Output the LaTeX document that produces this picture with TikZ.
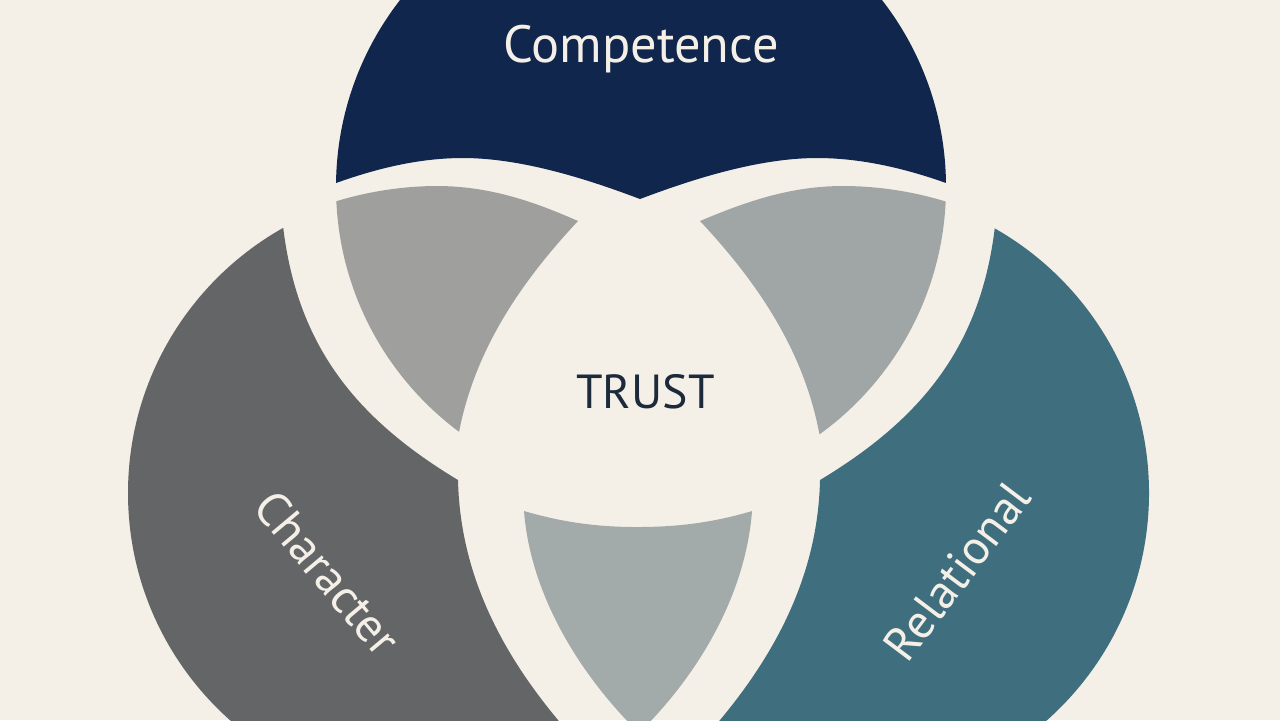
\documentclass[tikz,border=0pt]{standalone}
\usepackage{fontspec}
\setmainfont{PT Sans}
\definecolor{paper}{HTML}{F5F0E7}
\definecolor{navy}{HTML}{10264C}
\definecolor{slate}{HTML}{646567}
\definecolor{teal}{HTML}{3F6E7E}
\definecolor{lensleft}{HTML}{9FA09E}
\definecolor{lensright}{HTML}{A0A6A6}
\definecolor{lensbottom}{HTML}{A2ABAA}
\definecolor{ink}{HTML}{1C2A3C}
\tikzset{
    petal label/.style={text=paper,inner sep=0pt,font=\fontsize{13.7pt}{16pt}\selectfont},
    top circle/.style={insert path={(641,187) circle[radius=305]}},
    left circle/.style={insert path={(432,493) circle[radius=304]}},
    right circle/.style={insert path={(845,493) circle[radius=304]}},
}
\begin{document}
\begin{tikzpicture}[x=0.01cm,y=-0.01cm]
    
    \useasboundingbox (0,0) rectangle (1280,720);
    \clip (0,0) rectangle (1280,720);
    \fill[paper] (0,0) rectangle (1280,720);
    
    % outer petals
    \begin{scope}
    \clip[top circle];
    \fill[navy] (320,183) to (336,183)
        .. controls (378,168) and (420,158) .. (463,158)
        .. controls (525,158) and (595,182) .. (640,199)
        .. controls (685,182) and (755,158) .. (817,158)
        .. controls (860,158) and (904,168) .. (946,183)
        to (960,183) to (960,-20) to (320,-20) to cycle;
    \end{scope}
    
    \begin{scope}
    \clip[left circle];
    \fill[slate] (283,226)
        .. controls (297,345) and (355,418) .. (458,480)
        .. controls (460,570) and (498,648) .. (558,720)
        to (575,741) to (100,741) to (100,200) to cycle;
    \end{scope}
    
    \begin{scope}
    \clip[right circle];
    \fill[teal] (995,226)
        .. controls (981,345) and (923,418) .. (820,480)
        .. controls (818,570) and (780,648) .. (720,720)
        to (703,741) to (1178,741) to (1178,200) to cycle;
    \end{scope}
    
    % overlaps
    \begin{scope}
    \clip[top circle];
    \fill[lensleft] (320,206) to (337,201)
        .. controls (370,191) and (405,186) .. (437,186)
        .. controls (490,186) and (535,202) .. (578,221)
        .. controls (520,283) and (475,350) .. (459,432)
        to (455,450) to (320,450) to cycle;
    \fill[lensright] (960,206) to (944,201)
        .. controls (911,191) and (876,186) .. (843,186)
        .. controls (790,186) and (745,202) .. (700,221)
        .. controls (758,283) and (803,350) .. (819,432)
        to (823,450) to (960,450) to cycle;
    \end{scope}
    
    \fill[lensbottom] (524,511)
        .. controls (565,523) and (600,527) .. (637,527)
        .. controls (680,527) and (715,522) .. (752,511)
        .. controls (746,590) and (703,670) .. (639,733)
        .. controls (575,670) and (530,590) .. (524,511) -- cycle;
    
    \node[petal label,font=\fontsize{14.9pt}{16pt}\selectfont] (competence) at (641,49.5) {Competence};
    \node[text=ink,inner sep=0pt,font=\fontsize{13.6pt}{16pt}\selectfont] (trust) at (645.5,392) {TRUST};
    \node[petal label,rotate=-50] (character) at (328,573) {Character};
    \node[petal label,rotate=53] (relational) at (957,571) {Relational};
    
\end{tikzpicture}
\end{document}
